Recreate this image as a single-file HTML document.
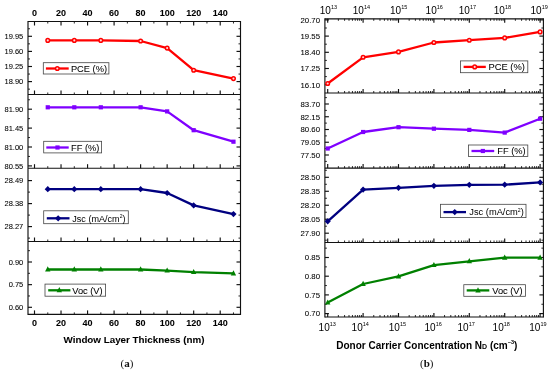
<!DOCTYPE html>
<html lang="en"><head><meta charset="utf-8"><title>Figure</title>
<style>
html,body{margin:0;padding:0;background:#fff;}
svg{display:block;}
</style></head><body>
<svg width="550" height="374" viewBox="0 0 550 374">
<rect x="0" y="0" width="550" height="374" fill="#ffffff"/>
<line x1="28.00" y1="21.00" x2="28.00" y2="314.90" stroke="#111" stroke-width="1.15"/>
<line x1="240.50" y1="21.00" x2="240.50" y2="314.90" stroke="#111" stroke-width="1.15"/>
<line x1="28.00" y1="21.50" x2="240.50" y2="21.50" stroke="#111" stroke-width="1.15"/>
<line x1="28.00" y1="94.50" x2="240.50" y2="94.50" stroke="#111" stroke-width="1.15"/>
<line x1="28.00" y1="168.20" x2="240.50" y2="168.20" stroke="#111" stroke-width="1.15"/>
<line x1="28.00" y1="241.50" x2="240.50" y2="241.50" stroke="#111" stroke-width="1.15"/>
<line x1="28.00" y1="314.40" x2="240.50" y2="314.40" stroke="#111" stroke-width="1.15"/>
<line x1="34.50" y1="94.50" x2="34.50" y2="90.50" stroke="#111" stroke-width="1.15"/>
<line x1="61.03" y1="94.50" x2="61.03" y2="90.50" stroke="#111" stroke-width="1.15"/>
<line x1="87.56" y1="94.50" x2="87.56" y2="90.50" stroke="#111" stroke-width="1.15"/>
<line x1="114.09" y1="94.50" x2="114.09" y2="90.50" stroke="#111" stroke-width="1.15"/>
<line x1="140.62" y1="94.50" x2="140.62" y2="90.50" stroke="#111" stroke-width="1.15"/>
<line x1="167.15" y1="94.50" x2="167.15" y2="90.50" stroke="#111" stroke-width="1.15"/>
<line x1="193.68" y1="94.50" x2="193.68" y2="90.50" stroke="#111" stroke-width="1.15"/>
<line x1="220.21" y1="94.50" x2="220.21" y2="90.50" stroke="#111" stroke-width="1.15"/>
<line x1="47.77" y1="94.50" x2="47.77" y2="92.50" stroke="#111" stroke-width="0.9"/>
<line x1="74.30" y1="94.50" x2="74.30" y2="92.50" stroke="#111" stroke-width="0.9"/>
<line x1="100.83" y1="94.50" x2="100.83" y2="92.50" stroke="#111" stroke-width="0.9"/>
<line x1="127.36" y1="94.50" x2="127.36" y2="92.50" stroke="#111" stroke-width="0.9"/>
<line x1="153.88" y1="94.50" x2="153.88" y2="92.50" stroke="#111" stroke-width="0.9"/>
<line x1="180.41" y1="94.50" x2="180.41" y2="92.50" stroke="#111" stroke-width="0.9"/>
<line x1="206.94" y1="94.50" x2="206.94" y2="92.50" stroke="#111" stroke-width="0.9"/>
<line x1="233.47" y1="94.50" x2="233.47" y2="92.50" stroke="#111" stroke-width="0.9"/>
<line x1="34.50" y1="168.20" x2="34.50" y2="164.20" stroke="#111" stroke-width="1.15"/>
<line x1="61.03" y1="168.20" x2="61.03" y2="164.20" stroke="#111" stroke-width="1.15"/>
<line x1="87.56" y1="168.20" x2="87.56" y2="164.20" stroke="#111" stroke-width="1.15"/>
<line x1="114.09" y1="168.20" x2="114.09" y2="164.20" stroke="#111" stroke-width="1.15"/>
<line x1="140.62" y1="168.20" x2="140.62" y2="164.20" stroke="#111" stroke-width="1.15"/>
<line x1="167.15" y1="168.20" x2="167.15" y2="164.20" stroke="#111" stroke-width="1.15"/>
<line x1="193.68" y1="168.20" x2="193.68" y2="164.20" stroke="#111" stroke-width="1.15"/>
<line x1="220.21" y1="168.20" x2="220.21" y2="164.20" stroke="#111" stroke-width="1.15"/>
<line x1="47.77" y1="168.20" x2="47.77" y2="166.20" stroke="#111" stroke-width="0.9"/>
<line x1="74.30" y1="168.20" x2="74.30" y2="166.20" stroke="#111" stroke-width="0.9"/>
<line x1="100.83" y1="168.20" x2="100.83" y2="166.20" stroke="#111" stroke-width="0.9"/>
<line x1="127.36" y1="168.20" x2="127.36" y2="166.20" stroke="#111" stroke-width="0.9"/>
<line x1="153.88" y1="168.20" x2="153.88" y2="166.20" stroke="#111" stroke-width="0.9"/>
<line x1="180.41" y1="168.20" x2="180.41" y2="166.20" stroke="#111" stroke-width="0.9"/>
<line x1="206.94" y1="168.20" x2="206.94" y2="166.20" stroke="#111" stroke-width="0.9"/>
<line x1="233.47" y1="168.20" x2="233.47" y2="166.20" stroke="#111" stroke-width="0.9"/>
<line x1="34.50" y1="241.50" x2="34.50" y2="237.50" stroke="#111" stroke-width="1.15"/>
<line x1="61.03" y1="241.50" x2="61.03" y2="237.50" stroke="#111" stroke-width="1.15"/>
<line x1="87.56" y1="241.50" x2="87.56" y2="237.50" stroke="#111" stroke-width="1.15"/>
<line x1="114.09" y1="241.50" x2="114.09" y2="237.50" stroke="#111" stroke-width="1.15"/>
<line x1="140.62" y1="241.50" x2="140.62" y2="237.50" stroke="#111" stroke-width="1.15"/>
<line x1="167.15" y1="241.50" x2="167.15" y2="237.50" stroke="#111" stroke-width="1.15"/>
<line x1="193.68" y1="241.50" x2="193.68" y2="237.50" stroke="#111" stroke-width="1.15"/>
<line x1="220.21" y1="241.50" x2="220.21" y2="237.50" stroke="#111" stroke-width="1.15"/>
<line x1="47.77" y1="241.50" x2="47.77" y2="239.50" stroke="#111" stroke-width="0.9"/>
<line x1="74.30" y1="241.50" x2="74.30" y2="239.50" stroke="#111" stroke-width="0.9"/>
<line x1="100.83" y1="241.50" x2="100.83" y2="239.50" stroke="#111" stroke-width="0.9"/>
<line x1="127.36" y1="241.50" x2="127.36" y2="239.50" stroke="#111" stroke-width="0.9"/>
<line x1="153.88" y1="241.50" x2="153.88" y2="239.50" stroke="#111" stroke-width="0.9"/>
<line x1="180.41" y1="241.50" x2="180.41" y2="239.50" stroke="#111" stroke-width="0.9"/>
<line x1="206.94" y1="241.50" x2="206.94" y2="239.50" stroke="#111" stroke-width="0.9"/>
<line x1="233.47" y1="241.50" x2="233.47" y2="239.50" stroke="#111" stroke-width="0.9"/>
<line x1="34.50" y1="314.40" x2="34.50" y2="310.40" stroke="#111" stroke-width="1.15"/>
<line x1="61.03" y1="314.40" x2="61.03" y2="310.40" stroke="#111" stroke-width="1.15"/>
<line x1="87.56" y1="314.40" x2="87.56" y2="310.40" stroke="#111" stroke-width="1.15"/>
<line x1="114.09" y1="314.40" x2="114.09" y2="310.40" stroke="#111" stroke-width="1.15"/>
<line x1="140.62" y1="314.40" x2="140.62" y2="310.40" stroke="#111" stroke-width="1.15"/>
<line x1="167.15" y1="314.40" x2="167.15" y2="310.40" stroke="#111" stroke-width="1.15"/>
<line x1="193.68" y1="314.40" x2="193.68" y2="310.40" stroke="#111" stroke-width="1.15"/>
<line x1="220.21" y1="314.40" x2="220.21" y2="310.40" stroke="#111" stroke-width="1.15"/>
<line x1="47.77" y1="314.40" x2="47.77" y2="312.40" stroke="#111" stroke-width="0.9"/>
<line x1="74.30" y1="314.40" x2="74.30" y2="312.40" stroke="#111" stroke-width="0.9"/>
<line x1="100.83" y1="314.40" x2="100.83" y2="312.40" stroke="#111" stroke-width="0.9"/>
<line x1="127.36" y1="314.40" x2="127.36" y2="312.40" stroke="#111" stroke-width="0.9"/>
<line x1="153.88" y1="314.40" x2="153.88" y2="312.40" stroke="#111" stroke-width="0.9"/>
<line x1="180.41" y1="314.40" x2="180.41" y2="312.40" stroke="#111" stroke-width="0.9"/>
<line x1="206.94" y1="314.40" x2="206.94" y2="312.40" stroke="#111" stroke-width="0.9"/>
<line x1="233.47" y1="314.40" x2="233.47" y2="312.40" stroke="#111" stroke-width="0.9"/>
<line x1="34.50" y1="21.50" x2="34.50" y2="25.50" stroke="#111" stroke-width="1.15"/>
<line x1="61.03" y1="21.50" x2="61.03" y2="25.50" stroke="#111" stroke-width="1.15"/>
<line x1="87.56" y1="21.50" x2="87.56" y2="25.50" stroke="#111" stroke-width="1.15"/>
<line x1="114.09" y1="21.50" x2="114.09" y2="25.50" stroke="#111" stroke-width="1.15"/>
<line x1="140.62" y1="21.50" x2="140.62" y2="25.50" stroke="#111" stroke-width="1.15"/>
<line x1="167.15" y1="21.50" x2="167.15" y2="25.50" stroke="#111" stroke-width="1.15"/>
<line x1="193.68" y1="21.50" x2="193.68" y2="25.50" stroke="#111" stroke-width="1.15"/>
<line x1="220.21" y1="21.50" x2="220.21" y2="25.50" stroke="#111" stroke-width="1.15"/>
<line x1="47.77" y1="21.50" x2="47.77" y2="23.50" stroke="#111" stroke-width="0.9"/>
<line x1="74.30" y1="21.50" x2="74.30" y2="23.50" stroke="#111" stroke-width="0.9"/>
<line x1="100.83" y1="21.50" x2="100.83" y2="23.50" stroke="#111" stroke-width="0.9"/>
<line x1="127.36" y1="21.50" x2="127.36" y2="23.50" stroke="#111" stroke-width="0.9"/>
<line x1="153.88" y1="21.50" x2="153.88" y2="23.50" stroke="#111" stroke-width="0.9"/>
<line x1="180.41" y1="21.50" x2="180.41" y2="23.50" stroke="#111" stroke-width="0.9"/>
<line x1="206.94" y1="21.50" x2="206.94" y2="23.50" stroke="#111" stroke-width="0.9"/>
<line x1="233.47" y1="21.50" x2="233.47" y2="23.50" stroke="#111" stroke-width="0.9"/>
<line x1="28.00" y1="36.30" x2="32.00" y2="36.30" stroke="#111" stroke-width="1.15"/>
<line x1="240.50" y1="36.30" x2="236.50" y2="36.30" stroke="#111" stroke-width="1.15"/>
<line x1="28.00" y1="51.40" x2="32.00" y2="51.40" stroke="#111" stroke-width="1.15"/>
<line x1="240.50" y1="51.40" x2="236.50" y2="51.40" stroke="#111" stroke-width="1.15"/>
<line x1="28.00" y1="66.50" x2="32.00" y2="66.50" stroke="#111" stroke-width="1.15"/>
<line x1="240.50" y1="66.50" x2="236.50" y2="66.50" stroke="#111" stroke-width="1.15"/>
<line x1="28.00" y1="81.60" x2="32.00" y2="81.60" stroke="#111" stroke-width="1.15"/>
<line x1="240.50" y1="81.60" x2="236.50" y2="81.60" stroke="#111" stroke-width="1.15"/>
<line x1="28.00" y1="28.75" x2="30.00" y2="28.75" stroke="#111" stroke-width="0.9"/>
<line x1="240.50" y1="28.75" x2="238.50" y2="28.75" stroke="#111" stroke-width="0.9"/>
<line x1="28.00" y1="43.85" x2="30.00" y2="43.85" stroke="#111" stroke-width="0.9"/>
<line x1="240.50" y1="43.85" x2="238.50" y2="43.85" stroke="#111" stroke-width="0.9"/>
<line x1="28.00" y1="58.95" x2="30.00" y2="58.95" stroke="#111" stroke-width="0.9"/>
<line x1="240.50" y1="58.95" x2="238.50" y2="58.95" stroke="#111" stroke-width="0.9"/>
<line x1="28.00" y1="74.05" x2="30.00" y2="74.05" stroke="#111" stroke-width="0.9"/>
<line x1="240.50" y1="74.05" x2="238.50" y2="74.05" stroke="#111" stroke-width="0.9"/>
<line x1="28.00" y1="89.15" x2="30.00" y2="89.15" stroke="#111" stroke-width="0.9"/>
<line x1="240.50" y1="89.15" x2="238.50" y2="89.15" stroke="#111" stroke-width="0.9"/>
<line x1="28.00" y1="109.20" x2="32.00" y2="109.20" stroke="#111" stroke-width="1.15"/>
<line x1="240.50" y1="109.20" x2="236.50" y2="109.20" stroke="#111" stroke-width="1.15"/>
<line x1="28.00" y1="128.10" x2="32.00" y2="128.10" stroke="#111" stroke-width="1.15"/>
<line x1="240.50" y1="128.10" x2="236.50" y2="128.10" stroke="#111" stroke-width="1.15"/>
<line x1="28.00" y1="147.00" x2="32.00" y2="147.00" stroke="#111" stroke-width="1.15"/>
<line x1="240.50" y1="147.00" x2="236.50" y2="147.00" stroke="#111" stroke-width="1.15"/>
<line x1="28.00" y1="165.90" x2="32.00" y2="165.90" stroke="#111" stroke-width="1.15"/>
<line x1="240.50" y1="165.90" x2="236.50" y2="165.90" stroke="#111" stroke-width="1.15"/>
<line x1="28.00" y1="99.75" x2="30.00" y2="99.75" stroke="#111" stroke-width="0.9"/>
<line x1="240.50" y1="99.75" x2="238.50" y2="99.75" stroke="#111" stroke-width="0.9"/>
<line x1="28.00" y1="118.65" x2="30.00" y2="118.65" stroke="#111" stroke-width="0.9"/>
<line x1="240.50" y1="118.65" x2="238.50" y2="118.65" stroke="#111" stroke-width="0.9"/>
<line x1="28.00" y1="137.55" x2="30.00" y2="137.55" stroke="#111" stroke-width="0.9"/>
<line x1="240.50" y1="137.55" x2="238.50" y2="137.55" stroke="#111" stroke-width="0.9"/>
<line x1="28.00" y1="156.45" x2="30.00" y2="156.45" stroke="#111" stroke-width="0.9"/>
<line x1="240.50" y1="156.45" x2="238.50" y2="156.45" stroke="#111" stroke-width="0.9"/>
<line x1="28.00" y1="180.60" x2="32.00" y2="180.60" stroke="#111" stroke-width="1.15"/>
<line x1="240.50" y1="180.60" x2="236.50" y2="180.60" stroke="#111" stroke-width="1.15"/>
<line x1="28.00" y1="203.60" x2="32.00" y2="203.60" stroke="#111" stroke-width="1.15"/>
<line x1="240.50" y1="203.60" x2="236.50" y2="203.60" stroke="#111" stroke-width="1.15"/>
<line x1="28.00" y1="226.60" x2="32.00" y2="226.60" stroke="#111" stroke-width="1.15"/>
<line x1="240.50" y1="226.60" x2="236.50" y2="226.60" stroke="#111" stroke-width="1.15"/>
<line x1="28.00" y1="192.10" x2="30.00" y2="192.10" stroke="#111" stroke-width="0.9"/>
<line x1="240.50" y1="192.10" x2="238.50" y2="192.10" stroke="#111" stroke-width="0.9"/>
<line x1="28.00" y1="215.10" x2="30.00" y2="215.10" stroke="#111" stroke-width="0.9"/>
<line x1="240.50" y1="215.10" x2="238.50" y2="215.10" stroke="#111" stroke-width="0.9"/>
<line x1="28.00" y1="238.10" x2="30.00" y2="238.10" stroke="#111" stroke-width="0.9"/>
<line x1="240.50" y1="238.10" x2="238.50" y2="238.10" stroke="#111" stroke-width="0.9"/>
<line x1="28.00" y1="262.00" x2="32.00" y2="262.00" stroke="#111" stroke-width="1.15"/>
<line x1="240.50" y1="262.00" x2="236.50" y2="262.00" stroke="#111" stroke-width="1.15"/>
<line x1="28.00" y1="284.65" x2="32.00" y2="284.65" stroke="#111" stroke-width="1.15"/>
<line x1="240.50" y1="284.65" x2="236.50" y2="284.65" stroke="#111" stroke-width="1.15"/>
<line x1="28.00" y1="307.30" x2="32.00" y2="307.30" stroke="#111" stroke-width="1.15"/>
<line x1="240.50" y1="307.30" x2="236.50" y2="307.30" stroke="#111" stroke-width="1.15"/>
<line x1="28.00" y1="250.68" x2="30.00" y2="250.68" stroke="#111" stroke-width="0.9"/>
<line x1="240.50" y1="250.68" x2="238.50" y2="250.68" stroke="#111" stroke-width="0.9"/>
<line x1="28.00" y1="273.32" x2="30.00" y2="273.32" stroke="#111" stroke-width="0.9"/>
<line x1="240.50" y1="273.32" x2="238.50" y2="273.32" stroke="#111" stroke-width="0.9"/>
<line x1="28.00" y1="295.98" x2="30.00" y2="295.98" stroke="#111" stroke-width="0.9"/>
<line x1="240.50" y1="295.98" x2="238.50" y2="295.98" stroke="#111" stroke-width="0.9"/>
<text x="23.30" y="39.00" font-size="7.5" text-anchor="end" font-weight="normal" font-family="'Liberation Sans', Arial, sans-serif" fill="#000" stroke="#000" stroke-width="0.06">19.95</text>
<text x="23.30" y="54.10" font-size="7.5" text-anchor="end" font-weight="normal" font-family="'Liberation Sans', Arial, sans-serif" fill="#000" stroke="#000" stroke-width="0.06">19.60</text>
<text x="23.30" y="69.20" font-size="7.5" text-anchor="end" font-weight="normal" font-family="'Liberation Sans', Arial, sans-serif" fill="#000" stroke="#000" stroke-width="0.06">19.25</text>
<text x="23.30" y="84.30" font-size="7.5" text-anchor="end" font-weight="normal" font-family="'Liberation Sans', Arial, sans-serif" fill="#000" stroke="#000" stroke-width="0.06">18.90</text>
<text x="23.30" y="111.90" font-size="7.5" text-anchor="end" font-weight="normal" font-family="'Liberation Sans', Arial, sans-serif" fill="#000" stroke="#000" stroke-width="0.06">81.90</text>
<text x="23.30" y="130.80" font-size="7.5" text-anchor="end" font-weight="normal" font-family="'Liberation Sans', Arial, sans-serif" fill="#000" stroke="#000" stroke-width="0.06">81.45</text>
<text x="23.30" y="149.70" font-size="7.5" text-anchor="end" font-weight="normal" font-family="'Liberation Sans', Arial, sans-serif" fill="#000" stroke="#000" stroke-width="0.06">81.00</text>
<text x="23.30" y="168.60" font-size="7.5" text-anchor="end" font-weight="normal" font-family="'Liberation Sans', Arial, sans-serif" fill="#000" stroke="#000" stroke-width="0.06">80.55</text>
<text x="23.30" y="183.30" font-size="7.5" text-anchor="end" font-weight="normal" font-family="'Liberation Sans', Arial, sans-serif" fill="#000" stroke="#000" stroke-width="0.06">28.49</text>
<text x="23.30" y="206.30" font-size="7.5" text-anchor="end" font-weight="normal" font-family="'Liberation Sans', Arial, sans-serif" fill="#000" stroke="#000" stroke-width="0.06">28.38</text>
<text x="23.30" y="229.30" font-size="7.5" text-anchor="end" font-weight="normal" font-family="'Liberation Sans', Arial, sans-serif" fill="#000" stroke="#000" stroke-width="0.06">28.27</text>
<text x="23.30" y="264.70" font-size="7.5" text-anchor="end" font-weight="normal" font-family="'Liberation Sans', Arial, sans-serif" fill="#000" stroke="#000" stroke-width="0.06">0.90</text>
<text x="23.30" y="287.35" font-size="7.5" text-anchor="end" font-weight="normal" font-family="'Liberation Sans', Arial, sans-serif" fill="#000" stroke="#000" stroke-width="0.06">0.75</text>
<text x="23.30" y="310.00" font-size="7.5" text-anchor="end" font-weight="normal" font-family="'Liberation Sans', Arial, sans-serif" fill="#000" stroke="#000" stroke-width="0.06">0.60</text>
<text x="34.50" y="15.70" font-size="9" text-anchor="middle" font-weight="bold" font-family="'Liberation Sans', Arial, sans-serif" fill="#000" stroke="#000" stroke-width="0.06">0</text>
<text x="34.50" y="326.20" font-size="9" text-anchor="middle" font-weight="bold" font-family="'Liberation Sans', Arial, sans-serif" fill="#000" stroke="#000" stroke-width="0.06">0</text>
<text x="61.03" y="15.70" font-size="9" text-anchor="middle" font-weight="bold" font-family="'Liberation Sans', Arial, sans-serif" fill="#000" stroke="#000" stroke-width="0.06">20</text>
<text x="61.03" y="326.20" font-size="9" text-anchor="middle" font-weight="bold" font-family="'Liberation Sans', Arial, sans-serif" fill="#000" stroke="#000" stroke-width="0.06">20</text>
<text x="87.56" y="15.70" font-size="9" text-anchor="middle" font-weight="bold" font-family="'Liberation Sans', Arial, sans-serif" fill="#000" stroke="#000" stroke-width="0.06">40</text>
<text x="87.56" y="326.20" font-size="9" text-anchor="middle" font-weight="bold" font-family="'Liberation Sans', Arial, sans-serif" fill="#000" stroke="#000" stroke-width="0.06">40</text>
<text x="114.09" y="15.70" font-size="9" text-anchor="middle" font-weight="bold" font-family="'Liberation Sans', Arial, sans-serif" fill="#000" stroke="#000" stroke-width="0.06">60</text>
<text x="114.09" y="326.20" font-size="9" text-anchor="middle" font-weight="bold" font-family="'Liberation Sans', Arial, sans-serif" fill="#000" stroke="#000" stroke-width="0.06">60</text>
<text x="140.62" y="15.70" font-size="9" text-anchor="middle" font-weight="bold" font-family="'Liberation Sans', Arial, sans-serif" fill="#000" stroke="#000" stroke-width="0.06">80</text>
<text x="140.62" y="326.20" font-size="9" text-anchor="middle" font-weight="bold" font-family="'Liberation Sans', Arial, sans-serif" fill="#000" stroke="#000" stroke-width="0.06">80</text>
<text x="167.15" y="15.70" font-size="9" text-anchor="middle" font-weight="bold" font-family="'Liberation Sans', Arial, sans-serif" fill="#000" stroke="#000" stroke-width="0.06">100</text>
<text x="167.15" y="326.20" font-size="9" text-anchor="middle" font-weight="bold" font-family="'Liberation Sans', Arial, sans-serif" fill="#000" stroke="#000" stroke-width="0.06">100</text>
<text x="193.68" y="15.70" font-size="9" text-anchor="middle" font-weight="bold" font-family="'Liberation Sans', Arial, sans-serif" fill="#000" stroke="#000" stroke-width="0.06">120</text>
<text x="193.68" y="326.20" font-size="9" text-anchor="middle" font-weight="bold" font-family="'Liberation Sans', Arial, sans-serif" fill="#000" stroke="#000" stroke-width="0.06">120</text>
<text x="220.21" y="15.70" font-size="9" text-anchor="middle" font-weight="bold" font-family="'Liberation Sans', Arial, sans-serif" fill="#000" stroke="#000" stroke-width="0.06">140</text>
<text x="220.21" y="326.20" font-size="9" text-anchor="middle" font-weight="bold" font-family="'Liberation Sans', Arial, sans-serif" fill="#000" stroke="#000" stroke-width="0.06">140</text>
<text x="134.00" y="342.90" font-size="9.8" text-anchor="middle" font-weight="bold" font-family="'Liberation Sans', Arial, sans-serif" fill="#000" stroke="#000" stroke-width="0.06" textLength="141" lengthAdjust="spacingAndGlyphs">Window Layer Thickness (nm)</text>
<polyline points="47.77,40.40 74.30,40.40 100.83,40.40 140.62,41.00 167.15,48.10 193.68,70.20 233.47,78.60" fill="none" stroke="#ff0000" stroke-width="2.3" stroke-linejoin="round"/>
<circle cx="47.77" cy="40.40" r="1.8" fill="#ffd8d8" stroke="#ff0000" stroke-width="1.5"/>
<circle cx="74.30" cy="40.40" r="1.8" fill="#ffd8d8" stroke="#ff0000" stroke-width="1.5"/>
<circle cx="100.83" cy="40.40" r="1.8" fill="#ffd8d8" stroke="#ff0000" stroke-width="1.5"/>
<circle cx="140.62" cy="41.00" r="1.8" fill="#ffd8d8" stroke="#ff0000" stroke-width="1.5"/>
<circle cx="167.15" cy="48.10" r="1.8" fill="#ffd8d8" stroke="#ff0000" stroke-width="1.5"/>
<circle cx="193.68" cy="70.20" r="1.8" fill="#ffd8d8" stroke="#ff0000" stroke-width="1.5"/>
<circle cx="233.47" cy="78.60" r="1.8" fill="#ffd8d8" stroke="#ff0000" stroke-width="1.5"/>
<polyline points="47.77,107.30 74.30,107.30 100.83,107.30 140.62,107.30 167.15,111.40 193.68,130.20 233.47,141.70" fill="none" stroke="#7f00ff" stroke-width="2.3" stroke-linejoin="round"/>
<rect x="45.66" y="105.20" width="4.20" height="4.20" fill="#7f00ff"/>
<rect x="72.20" y="105.20" width="4.20" height="4.20" fill="#7f00ff"/>
<rect x="98.73" y="105.20" width="4.20" height="4.20" fill="#7f00ff"/>
<rect x="138.52" y="105.20" width="4.20" height="4.20" fill="#7f00ff"/>
<rect x="165.05" y="109.30" width="4.20" height="4.20" fill="#7f00ff"/>
<rect x="191.58" y="128.10" width="4.20" height="4.20" fill="#7f00ff"/>
<rect x="231.38" y="139.60" width="4.20" height="4.20" fill="#7f00ff"/>
<polyline points="47.77,189.20 74.30,189.20 100.83,189.20 140.62,189.20 167.15,193.00 193.68,205.40 233.47,214.10" fill="none" stroke="#000080" stroke-width="2.3" stroke-linejoin="round"/>
<polygon points="44.66,189.20 47.77,186.10 50.87,189.20 47.77,192.30" fill="#000080"/>
<polygon points="71.20,189.20 74.30,186.10 77.39,189.20 74.30,192.30" fill="#000080"/>
<polygon points="97.73,189.20 100.83,186.10 103.92,189.20 100.83,192.30" fill="#000080"/>
<polygon points="137.52,189.20 140.62,186.10 143.72,189.20 140.62,192.30" fill="#000080"/>
<polygon points="164.05,193.00 167.15,189.90 170.25,193.00 167.15,196.10" fill="#000080"/>
<polygon points="190.58,205.40 193.68,202.30 196.78,205.40 193.68,208.50" fill="#000080"/>
<polygon points="230.38,214.10 233.47,211.00 236.57,214.10 233.47,217.20" fill="#000080"/>
<polyline points="47.77,269.50 74.30,269.50 100.83,269.50 140.62,269.50 167.15,270.60 193.68,272.10 233.47,273.40" fill="none" stroke="#008000" stroke-width="2.3" stroke-linejoin="round"/>
<polygon points="45.06,271.50 47.77,266.30 50.47,271.50" fill="#008000"/>
<polygon points="71.59,271.50 74.30,266.30 77.00,271.50" fill="#008000"/>
<polygon points="98.12,271.50 100.83,266.30 103.53,271.50" fill="#008000"/>
<polygon points="137.92,271.50 140.62,266.30 143.32,271.50" fill="#008000"/>
<polygon points="164.45,272.60 167.15,267.40 169.85,272.60" fill="#008000"/>
<polygon points="190.98,274.10 193.68,268.90 196.38,274.10" fill="#008000"/>
<polygon points="230.78,275.40 233.47,270.20 236.17,275.40" fill="#008000"/>
<rect x="43.30" y="62.70" width="65.60" height="11.30" fill="#fff" stroke="#444" stroke-width="0.8"/>
<line x1="45.90" y1="68.50" x2="68.70" y2="68.50" stroke="#ff0000" stroke-width="2.3"/>
<circle cx="57.30" cy="68.50" r="1.8" fill="#ffd8d8" stroke="#ff0000" stroke-width="1.5"/>
<text x="70.90" y="71.70" font-size="9.25" text-anchor="start" font-weight="normal" font-family="'Liberation Sans', Arial, sans-serif" fill="#000" stroke="#000" stroke-width="0.06" textLength="36.10" lengthAdjust="spacingAndGlyphs">PCE (%)</text>
<rect x="43.70" y="141.30" width="57.90" height="11.60" fill="#fff" stroke="#444" stroke-width="0.8"/>
<line x1="46.30" y1="147.50" x2="68.70" y2="147.50" stroke="#7f00ff" stroke-width="2.3"/>
<rect x="55.40" y="145.40" width="4.20" height="4.20" fill="#7f00ff"/>
<text x="71.00" y="150.70" font-size="9.25" text-anchor="start" font-weight="normal" font-family="'Liberation Sans', Arial, sans-serif" fill="#000" stroke="#000" stroke-width="0.06" textLength="28.30" lengthAdjust="spacingAndGlyphs">FF (%)</text>
<rect x="43.70" y="210.80" width="84.60" height="12.90" fill="#fff" stroke="#444" stroke-width="0.8"/>
<line x1="46.80" y1="218.30" x2="69.50" y2="218.30" stroke="#000080" stroke-width="2.3"/>
<polygon points="55.05,218.30 58.15,215.20 61.25,218.30 58.15,221.40" fill="#000080"/>
<text x="72.30" y="221.50" font-size="9.25" font-family="'Liberation Sans', Arial, sans-serif" fill="#000" textLength="53.20" lengthAdjust="spacingAndGlyphs">Jsc (mA/cm<tspan font-size="5.2" dy="-3.6">2</tspan><tspan dy="3.6">)</tspan></text>
<rect x="45.00" y="284.10" width="60.60" height="12.10" fill="#fff" stroke="#444" stroke-width="0.8"/>
<line x1="48.20" y1="290.30" x2="70.40" y2="290.30" stroke="#008000" stroke-width="2.3"/>
<polygon points="56.60,292.30 59.30,287.10 62.00,292.30" fill="#008000"/>
<text x="72.20" y="293.50" font-size="9.25" text-anchor="start" font-weight="normal" font-family="'Liberation Sans', Arial, sans-serif" fill="#000" stroke="#000" stroke-width="0.06" textLength="30.50" lengthAdjust="spacingAndGlyphs">Voc (V)</text>
<text x="126.9" y="367.2" font-size="11" text-anchor="middle" font-family="'Liberation Serif', 'Times New Roman', serif" fill="#111">(<tspan font-weight="bold">a</tspan>)</text>
<line x1="324.90" y1="18.30" x2="324.90" y2="317.50" stroke="#111" stroke-width="1.15"/>
<line x1="543.40" y1="18.30" x2="543.40" y2="317.50" stroke="#111" stroke-width="1.15"/>
<line x1="324.90" y1="18.80" x2="543.40" y2="18.80" stroke="#111" stroke-width="1.15"/>
<line x1="324.90" y1="93.00" x2="543.40" y2="93.00" stroke="#111" stroke-width="1.15"/>
<line x1="324.90" y1="168.10" x2="543.40" y2="168.10" stroke="#111" stroke-width="1.15"/>
<line x1="324.90" y1="242.50" x2="543.40" y2="242.50" stroke="#111" stroke-width="1.15"/>
<line x1="324.90" y1="317.00" x2="543.40" y2="317.00" stroke="#111" stroke-width="1.15"/>
<line x1="327.70" y1="93.00" x2="327.70" y2="89.00" stroke="#111" stroke-width="1.15"/>
<line x1="363.10" y1="93.00" x2="363.10" y2="89.00" stroke="#111" stroke-width="1.15"/>
<line x1="398.50" y1="93.00" x2="398.50" y2="89.00" stroke="#111" stroke-width="1.15"/>
<line x1="433.90" y1="93.00" x2="433.90" y2="89.00" stroke="#111" stroke-width="1.15"/>
<line x1="469.30" y1="93.00" x2="469.30" y2="89.00" stroke="#111" stroke-width="1.15"/>
<line x1="504.70" y1="93.00" x2="504.70" y2="89.00" stroke="#111" stroke-width="1.15"/>
<line x1="540.10" y1="93.00" x2="540.10" y2="89.00" stroke="#111" stroke-width="1.15"/>
<line x1="338.36" y1="93.00" x2="338.36" y2="91.00" stroke="#111" stroke-width="0.9"/>
<line x1="344.59" y1="93.00" x2="344.59" y2="91.00" stroke="#111" stroke-width="0.9"/>
<line x1="349.01" y1="93.00" x2="349.01" y2="91.00" stroke="#111" stroke-width="0.9"/>
<line x1="352.44" y1="93.00" x2="352.44" y2="91.00" stroke="#111" stroke-width="0.9"/>
<line x1="355.25" y1="93.00" x2="355.25" y2="91.00" stroke="#111" stroke-width="0.9"/>
<line x1="357.62" y1="93.00" x2="357.62" y2="91.00" stroke="#111" stroke-width="0.9"/>
<line x1="359.67" y1="93.00" x2="359.67" y2="91.00" stroke="#111" stroke-width="0.9"/>
<line x1="361.48" y1="93.00" x2="361.48" y2="91.00" stroke="#111" stroke-width="0.9"/>
<line x1="373.76" y1="93.00" x2="373.76" y2="91.00" stroke="#111" stroke-width="0.9"/>
<line x1="379.99" y1="93.00" x2="379.99" y2="91.00" stroke="#111" stroke-width="0.9"/>
<line x1="384.41" y1="93.00" x2="384.41" y2="91.00" stroke="#111" stroke-width="0.9"/>
<line x1="387.84" y1="93.00" x2="387.84" y2="91.00" stroke="#111" stroke-width="0.9"/>
<line x1="390.65" y1="93.00" x2="390.65" y2="91.00" stroke="#111" stroke-width="0.9"/>
<line x1="393.02" y1="93.00" x2="393.02" y2="91.00" stroke="#111" stroke-width="0.9"/>
<line x1="395.07" y1="93.00" x2="395.07" y2="91.00" stroke="#111" stroke-width="0.9"/>
<line x1="396.88" y1="93.00" x2="396.88" y2="91.00" stroke="#111" stroke-width="0.9"/>
<line x1="409.16" y1="93.00" x2="409.16" y2="91.00" stroke="#111" stroke-width="0.9"/>
<line x1="415.39" y1="93.00" x2="415.39" y2="91.00" stroke="#111" stroke-width="0.9"/>
<line x1="419.81" y1="93.00" x2="419.81" y2="91.00" stroke="#111" stroke-width="0.9"/>
<line x1="423.24" y1="93.00" x2="423.24" y2="91.00" stroke="#111" stroke-width="0.9"/>
<line x1="426.05" y1="93.00" x2="426.05" y2="91.00" stroke="#111" stroke-width="0.9"/>
<line x1="428.42" y1="93.00" x2="428.42" y2="91.00" stroke="#111" stroke-width="0.9"/>
<line x1="430.47" y1="93.00" x2="430.47" y2="91.00" stroke="#111" stroke-width="0.9"/>
<line x1="432.28" y1="93.00" x2="432.28" y2="91.00" stroke="#111" stroke-width="0.9"/>
<line x1="444.56" y1="93.00" x2="444.56" y2="91.00" stroke="#111" stroke-width="0.9"/>
<line x1="450.79" y1="93.00" x2="450.79" y2="91.00" stroke="#111" stroke-width="0.9"/>
<line x1="455.21" y1="93.00" x2="455.21" y2="91.00" stroke="#111" stroke-width="0.9"/>
<line x1="458.64" y1="93.00" x2="458.64" y2="91.00" stroke="#111" stroke-width="0.9"/>
<line x1="461.45" y1="93.00" x2="461.45" y2="91.00" stroke="#111" stroke-width="0.9"/>
<line x1="463.82" y1="93.00" x2="463.82" y2="91.00" stroke="#111" stroke-width="0.9"/>
<line x1="465.87" y1="93.00" x2="465.87" y2="91.00" stroke="#111" stroke-width="0.9"/>
<line x1="467.68" y1="93.00" x2="467.68" y2="91.00" stroke="#111" stroke-width="0.9"/>
<line x1="479.96" y1="93.00" x2="479.96" y2="91.00" stroke="#111" stroke-width="0.9"/>
<line x1="486.19" y1="93.00" x2="486.19" y2="91.00" stroke="#111" stroke-width="0.9"/>
<line x1="490.61" y1="93.00" x2="490.61" y2="91.00" stroke="#111" stroke-width="0.9"/>
<line x1="494.04" y1="93.00" x2="494.04" y2="91.00" stroke="#111" stroke-width="0.9"/>
<line x1="496.85" y1="93.00" x2="496.85" y2="91.00" stroke="#111" stroke-width="0.9"/>
<line x1="499.22" y1="93.00" x2="499.22" y2="91.00" stroke="#111" stroke-width="0.9"/>
<line x1="501.27" y1="93.00" x2="501.27" y2="91.00" stroke="#111" stroke-width="0.9"/>
<line x1="503.08" y1="93.00" x2="503.08" y2="91.00" stroke="#111" stroke-width="0.9"/>
<line x1="515.36" y1="93.00" x2="515.36" y2="91.00" stroke="#111" stroke-width="0.9"/>
<line x1="521.59" y1="93.00" x2="521.59" y2="91.00" stroke="#111" stroke-width="0.9"/>
<line x1="526.01" y1="93.00" x2="526.01" y2="91.00" stroke="#111" stroke-width="0.9"/>
<line x1="529.44" y1="93.00" x2="529.44" y2="91.00" stroke="#111" stroke-width="0.9"/>
<line x1="532.25" y1="93.00" x2="532.25" y2="91.00" stroke="#111" stroke-width="0.9"/>
<line x1="534.62" y1="93.00" x2="534.62" y2="91.00" stroke="#111" stroke-width="0.9"/>
<line x1="536.67" y1="93.00" x2="536.67" y2="91.00" stroke="#111" stroke-width="0.9"/>
<line x1="538.48" y1="93.00" x2="538.48" y2="91.00" stroke="#111" stroke-width="0.9"/>
<line x1="327.70" y1="168.10" x2="327.70" y2="164.10" stroke="#111" stroke-width="1.15"/>
<line x1="363.10" y1="168.10" x2="363.10" y2="164.10" stroke="#111" stroke-width="1.15"/>
<line x1="398.50" y1="168.10" x2="398.50" y2="164.10" stroke="#111" stroke-width="1.15"/>
<line x1="433.90" y1="168.10" x2="433.90" y2="164.10" stroke="#111" stroke-width="1.15"/>
<line x1="469.30" y1="168.10" x2="469.30" y2="164.10" stroke="#111" stroke-width="1.15"/>
<line x1="504.70" y1="168.10" x2="504.70" y2="164.10" stroke="#111" stroke-width="1.15"/>
<line x1="540.10" y1="168.10" x2="540.10" y2="164.10" stroke="#111" stroke-width="1.15"/>
<line x1="338.36" y1="168.10" x2="338.36" y2="166.10" stroke="#111" stroke-width="0.9"/>
<line x1="344.59" y1="168.10" x2="344.59" y2="166.10" stroke="#111" stroke-width="0.9"/>
<line x1="349.01" y1="168.10" x2="349.01" y2="166.10" stroke="#111" stroke-width="0.9"/>
<line x1="352.44" y1="168.10" x2="352.44" y2="166.10" stroke="#111" stroke-width="0.9"/>
<line x1="355.25" y1="168.10" x2="355.25" y2="166.10" stroke="#111" stroke-width="0.9"/>
<line x1="357.62" y1="168.10" x2="357.62" y2="166.10" stroke="#111" stroke-width="0.9"/>
<line x1="359.67" y1="168.10" x2="359.67" y2="166.10" stroke="#111" stroke-width="0.9"/>
<line x1="361.48" y1="168.10" x2="361.48" y2="166.10" stroke="#111" stroke-width="0.9"/>
<line x1="373.76" y1="168.10" x2="373.76" y2="166.10" stroke="#111" stroke-width="0.9"/>
<line x1="379.99" y1="168.10" x2="379.99" y2="166.10" stroke="#111" stroke-width="0.9"/>
<line x1="384.41" y1="168.10" x2="384.41" y2="166.10" stroke="#111" stroke-width="0.9"/>
<line x1="387.84" y1="168.10" x2="387.84" y2="166.10" stroke="#111" stroke-width="0.9"/>
<line x1="390.65" y1="168.10" x2="390.65" y2="166.10" stroke="#111" stroke-width="0.9"/>
<line x1="393.02" y1="168.10" x2="393.02" y2="166.10" stroke="#111" stroke-width="0.9"/>
<line x1="395.07" y1="168.10" x2="395.07" y2="166.10" stroke="#111" stroke-width="0.9"/>
<line x1="396.88" y1="168.10" x2="396.88" y2="166.10" stroke="#111" stroke-width="0.9"/>
<line x1="409.16" y1="168.10" x2="409.16" y2="166.10" stroke="#111" stroke-width="0.9"/>
<line x1="415.39" y1="168.10" x2="415.39" y2="166.10" stroke="#111" stroke-width="0.9"/>
<line x1="419.81" y1="168.10" x2="419.81" y2="166.10" stroke="#111" stroke-width="0.9"/>
<line x1="423.24" y1="168.10" x2="423.24" y2="166.10" stroke="#111" stroke-width="0.9"/>
<line x1="426.05" y1="168.10" x2="426.05" y2="166.10" stroke="#111" stroke-width="0.9"/>
<line x1="428.42" y1="168.10" x2="428.42" y2="166.10" stroke="#111" stroke-width="0.9"/>
<line x1="430.47" y1="168.10" x2="430.47" y2="166.10" stroke="#111" stroke-width="0.9"/>
<line x1="432.28" y1="168.10" x2="432.28" y2="166.10" stroke="#111" stroke-width="0.9"/>
<line x1="444.56" y1="168.10" x2="444.56" y2="166.10" stroke="#111" stroke-width="0.9"/>
<line x1="450.79" y1="168.10" x2="450.79" y2="166.10" stroke="#111" stroke-width="0.9"/>
<line x1="455.21" y1="168.10" x2="455.21" y2="166.10" stroke="#111" stroke-width="0.9"/>
<line x1="458.64" y1="168.10" x2="458.64" y2="166.10" stroke="#111" stroke-width="0.9"/>
<line x1="461.45" y1="168.10" x2="461.45" y2="166.10" stroke="#111" stroke-width="0.9"/>
<line x1="463.82" y1="168.10" x2="463.82" y2="166.10" stroke="#111" stroke-width="0.9"/>
<line x1="465.87" y1="168.10" x2="465.87" y2="166.10" stroke="#111" stroke-width="0.9"/>
<line x1="467.68" y1="168.10" x2="467.68" y2="166.10" stroke="#111" stroke-width="0.9"/>
<line x1="479.96" y1="168.10" x2="479.96" y2="166.10" stroke="#111" stroke-width="0.9"/>
<line x1="486.19" y1="168.10" x2="486.19" y2="166.10" stroke="#111" stroke-width="0.9"/>
<line x1="490.61" y1="168.10" x2="490.61" y2="166.10" stroke="#111" stroke-width="0.9"/>
<line x1="494.04" y1="168.10" x2="494.04" y2="166.10" stroke="#111" stroke-width="0.9"/>
<line x1="496.85" y1="168.10" x2="496.85" y2="166.10" stroke="#111" stroke-width="0.9"/>
<line x1="499.22" y1="168.10" x2="499.22" y2="166.10" stroke="#111" stroke-width="0.9"/>
<line x1="501.27" y1="168.10" x2="501.27" y2="166.10" stroke="#111" stroke-width="0.9"/>
<line x1="503.08" y1="168.10" x2="503.08" y2="166.10" stroke="#111" stroke-width="0.9"/>
<line x1="515.36" y1="168.10" x2="515.36" y2="166.10" stroke="#111" stroke-width="0.9"/>
<line x1="521.59" y1="168.10" x2="521.59" y2="166.10" stroke="#111" stroke-width="0.9"/>
<line x1="526.01" y1="168.10" x2="526.01" y2="166.10" stroke="#111" stroke-width="0.9"/>
<line x1="529.44" y1="168.10" x2="529.44" y2="166.10" stroke="#111" stroke-width="0.9"/>
<line x1="532.25" y1="168.10" x2="532.25" y2="166.10" stroke="#111" stroke-width="0.9"/>
<line x1="534.62" y1="168.10" x2="534.62" y2="166.10" stroke="#111" stroke-width="0.9"/>
<line x1="536.67" y1="168.10" x2="536.67" y2="166.10" stroke="#111" stroke-width="0.9"/>
<line x1="538.48" y1="168.10" x2="538.48" y2="166.10" stroke="#111" stroke-width="0.9"/>
<line x1="327.70" y1="242.50" x2="327.70" y2="238.50" stroke="#111" stroke-width="1.15"/>
<line x1="363.10" y1="242.50" x2="363.10" y2="238.50" stroke="#111" stroke-width="1.15"/>
<line x1="398.50" y1="242.50" x2="398.50" y2="238.50" stroke="#111" stroke-width="1.15"/>
<line x1="433.90" y1="242.50" x2="433.90" y2="238.50" stroke="#111" stroke-width="1.15"/>
<line x1="469.30" y1="242.50" x2="469.30" y2="238.50" stroke="#111" stroke-width="1.15"/>
<line x1="504.70" y1="242.50" x2="504.70" y2="238.50" stroke="#111" stroke-width="1.15"/>
<line x1="540.10" y1="242.50" x2="540.10" y2="238.50" stroke="#111" stroke-width="1.15"/>
<line x1="338.36" y1="242.50" x2="338.36" y2="240.50" stroke="#111" stroke-width="0.9"/>
<line x1="344.59" y1="242.50" x2="344.59" y2="240.50" stroke="#111" stroke-width="0.9"/>
<line x1="349.01" y1="242.50" x2="349.01" y2="240.50" stroke="#111" stroke-width="0.9"/>
<line x1="352.44" y1="242.50" x2="352.44" y2="240.50" stroke="#111" stroke-width="0.9"/>
<line x1="355.25" y1="242.50" x2="355.25" y2="240.50" stroke="#111" stroke-width="0.9"/>
<line x1="357.62" y1="242.50" x2="357.62" y2="240.50" stroke="#111" stroke-width="0.9"/>
<line x1="359.67" y1="242.50" x2="359.67" y2="240.50" stroke="#111" stroke-width="0.9"/>
<line x1="361.48" y1="242.50" x2="361.48" y2="240.50" stroke="#111" stroke-width="0.9"/>
<line x1="373.76" y1="242.50" x2="373.76" y2="240.50" stroke="#111" stroke-width="0.9"/>
<line x1="379.99" y1="242.50" x2="379.99" y2="240.50" stroke="#111" stroke-width="0.9"/>
<line x1="384.41" y1="242.50" x2="384.41" y2="240.50" stroke="#111" stroke-width="0.9"/>
<line x1="387.84" y1="242.50" x2="387.84" y2="240.50" stroke="#111" stroke-width="0.9"/>
<line x1="390.65" y1="242.50" x2="390.65" y2="240.50" stroke="#111" stroke-width="0.9"/>
<line x1="393.02" y1="242.50" x2="393.02" y2="240.50" stroke="#111" stroke-width="0.9"/>
<line x1="395.07" y1="242.50" x2="395.07" y2="240.50" stroke="#111" stroke-width="0.9"/>
<line x1="396.88" y1="242.50" x2="396.88" y2="240.50" stroke="#111" stroke-width="0.9"/>
<line x1="409.16" y1="242.50" x2="409.16" y2="240.50" stroke="#111" stroke-width="0.9"/>
<line x1="415.39" y1="242.50" x2="415.39" y2="240.50" stroke="#111" stroke-width="0.9"/>
<line x1="419.81" y1="242.50" x2="419.81" y2="240.50" stroke="#111" stroke-width="0.9"/>
<line x1="423.24" y1="242.50" x2="423.24" y2="240.50" stroke="#111" stroke-width="0.9"/>
<line x1="426.05" y1="242.50" x2="426.05" y2="240.50" stroke="#111" stroke-width="0.9"/>
<line x1="428.42" y1="242.50" x2="428.42" y2="240.50" stroke="#111" stroke-width="0.9"/>
<line x1="430.47" y1="242.50" x2="430.47" y2="240.50" stroke="#111" stroke-width="0.9"/>
<line x1="432.28" y1="242.50" x2="432.28" y2="240.50" stroke="#111" stroke-width="0.9"/>
<line x1="444.56" y1="242.50" x2="444.56" y2="240.50" stroke="#111" stroke-width="0.9"/>
<line x1="450.79" y1="242.50" x2="450.79" y2="240.50" stroke="#111" stroke-width="0.9"/>
<line x1="455.21" y1="242.50" x2="455.21" y2="240.50" stroke="#111" stroke-width="0.9"/>
<line x1="458.64" y1="242.50" x2="458.64" y2="240.50" stroke="#111" stroke-width="0.9"/>
<line x1="461.45" y1="242.50" x2="461.45" y2="240.50" stroke="#111" stroke-width="0.9"/>
<line x1="463.82" y1="242.50" x2="463.82" y2="240.50" stroke="#111" stroke-width="0.9"/>
<line x1="465.87" y1="242.50" x2="465.87" y2="240.50" stroke="#111" stroke-width="0.9"/>
<line x1="467.68" y1="242.50" x2="467.68" y2="240.50" stroke="#111" stroke-width="0.9"/>
<line x1="479.96" y1="242.50" x2="479.96" y2="240.50" stroke="#111" stroke-width="0.9"/>
<line x1="486.19" y1="242.50" x2="486.19" y2="240.50" stroke="#111" stroke-width="0.9"/>
<line x1="490.61" y1="242.50" x2="490.61" y2="240.50" stroke="#111" stroke-width="0.9"/>
<line x1="494.04" y1="242.50" x2="494.04" y2="240.50" stroke="#111" stroke-width="0.9"/>
<line x1="496.85" y1="242.50" x2="496.85" y2="240.50" stroke="#111" stroke-width="0.9"/>
<line x1="499.22" y1="242.50" x2="499.22" y2="240.50" stroke="#111" stroke-width="0.9"/>
<line x1="501.27" y1="242.50" x2="501.27" y2="240.50" stroke="#111" stroke-width="0.9"/>
<line x1="503.08" y1="242.50" x2="503.08" y2="240.50" stroke="#111" stroke-width="0.9"/>
<line x1="515.36" y1="242.50" x2="515.36" y2="240.50" stroke="#111" stroke-width="0.9"/>
<line x1="521.59" y1="242.50" x2="521.59" y2="240.50" stroke="#111" stroke-width="0.9"/>
<line x1="526.01" y1="242.50" x2="526.01" y2="240.50" stroke="#111" stroke-width="0.9"/>
<line x1="529.44" y1="242.50" x2="529.44" y2="240.50" stroke="#111" stroke-width="0.9"/>
<line x1="532.25" y1="242.50" x2="532.25" y2="240.50" stroke="#111" stroke-width="0.9"/>
<line x1="534.62" y1="242.50" x2="534.62" y2="240.50" stroke="#111" stroke-width="0.9"/>
<line x1="536.67" y1="242.50" x2="536.67" y2="240.50" stroke="#111" stroke-width="0.9"/>
<line x1="538.48" y1="242.50" x2="538.48" y2="240.50" stroke="#111" stroke-width="0.9"/>
<line x1="327.70" y1="317.00" x2="327.70" y2="313.00" stroke="#111" stroke-width="1.15"/>
<line x1="363.10" y1="317.00" x2="363.10" y2="313.00" stroke="#111" stroke-width="1.15"/>
<line x1="398.50" y1="317.00" x2="398.50" y2="313.00" stroke="#111" stroke-width="1.15"/>
<line x1="433.90" y1="317.00" x2="433.90" y2="313.00" stroke="#111" stroke-width="1.15"/>
<line x1="469.30" y1="317.00" x2="469.30" y2="313.00" stroke="#111" stroke-width="1.15"/>
<line x1="504.70" y1="317.00" x2="504.70" y2="313.00" stroke="#111" stroke-width="1.15"/>
<line x1="540.10" y1="317.00" x2="540.10" y2="313.00" stroke="#111" stroke-width="1.15"/>
<line x1="338.36" y1="317.00" x2="338.36" y2="315.00" stroke="#111" stroke-width="0.9"/>
<line x1="344.59" y1="317.00" x2="344.59" y2="315.00" stroke="#111" stroke-width="0.9"/>
<line x1="349.01" y1="317.00" x2="349.01" y2="315.00" stroke="#111" stroke-width="0.9"/>
<line x1="352.44" y1="317.00" x2="352.44" y2="315.00" stroke="#111" stroke-width="0.9"/>
<line x1="355.25" y1="317.00" x2="355.25" y2="315.00" stroke="#111" stroke-width="0.9"/>
<line x1="357.62" y1="317.00" x2="357.62" y2="315.00" stroke="#111" stroke-width="0.9"/>
<line x1="359.67" y1="317.00" x2="359.67" y2="315.00" stroke="#111" stroke-width="0.9"/>
<line x1="361.48" y1="317.00" x2="361.48" y2="315.00" stroke="#111" stroke-width="0.9"/>
<line x1="373.76" y1="317.00" x2="373.76" y2="315.00" stroke="#111" stroke-width="0.9"/>
<line x1="379.99" y1="317.00" x2="379.99" y2="315.00" stroke="#111" stroke-width="0.9"/>
<line x1="384.41" y1="317.00" x2="384.41" y2="315.00" stroke="#111" stroke-width="0.9"/>
<line x1="387.84" y1="317.00" x2="387.84" y2="315.00" stroke="#111" stroke-width="0.9"/>
<line x1="390.65" y1="317.00" x2="390.65" y2="315.00" stroke="#111" stroke-width="0.9"/>
<line x1="393.02" y1="317.00" x2="393.02" y2="315.00" stroke="#111" stroke-width="0.9"/>
<line x1="395.07" y1="317.00" x2="395.07" y2="315.00" stroke="#111" stroke-width="0.9"/>
<line x1="396.88" y1="317.00" x2="396.88" y2="315.00" stroke="#111" stroke-width="0.9"/>
<line x1="409.16" y1="317.00" x2="409.16" y2="315.00" stroke="#111" stroke-width="0.9"/>
<line x1="415.39" y1="317.00" x2="415.39" y2="315.00" stroke="#111" stroke-width="0.9"/>
<line x1="419.81" y1="317.00" x2="419.81" y2="315.00" stroke="#111" stroke-width="0.9"/>
<line x1="423.24" y1="317.00" x2="423.24" y2="315.00" stroke="#111" stroke-width="0.9"/>
<line x1="426.05" y1="317.00" x2="426.05" y2="315.00" stroke="#111" stroke-width="0.9"/>
<line x1="428.42" y1="317.00" x2="428.42" y2="315.00" stroke="#111" stroke-width="0.9"/>
<line x1="430.47" y1="317.00" x2="430.47" y2="315.00" stroke="#111" stroke-width="0.9"/>
<line x1="432.28" y1="317.00" x2="432.28" y2="315.00" stroke="#111" stroke-width="0.9"/>
<line x1="444.56" y1="317.00" x2="444.56" y2="315.00" stroke="#111" stroke-width="0.9"/>
<line x1="450.79" y1="317.00" x2="450.79" y2="315.00" stroke="#111" stroke-width="0.9"/>
<line x1="455.21" y1="317.00" x2="455.21" y2="315.00" stroke="#111" stroke-width="0.9"/>
<line x1="458.64" y1="317.00" x2="458.64" y2="315.00" stroke="#111" stroke-width="0.9"/>
<line x1="461.45" y1="317.00" x2="461.45" y2="315.00" stroke="#111" stroke-width="0.9"/>
<line x1="463.82" y1="317.00" x2="463.82" y2="315.00" stroke="#111" stroke-width="0.9"/>
<line x1="465.87" y1="317.00" x2="465.87" y2="315.00" stroke="#111" stroke-width="0.9"/>
<line x1="467.68" y1="317.00" x2="467.68" y2="315.00" stroke="#111" stroke-width="0.9"/>
<line x1="479.96" y1="317.00" x2="479.96" y2="315.00" stroke="#111" stroke-width="0.9"/>
<line x1="486.19" y1="317.00" x2="486.19" y2="315.00" stroke="#111" stroke-width="0.9"/>
<line x1="490.61" y1="317.00" x2="490.61" y2="315.00" stroke="#111" stroke-width="0.9"/>
<line x1="494.04" y1="317.00" x2="494.04" y2="315.00" stroke="#111" stroke-width="0.9"/>
<line x1="496.85" y1="317.00" x2="496.85" y2="315.00" stroke="#111" stroke-width="0.9"/>
<line x1="499.22" y1="317.00" x2="499.22" y2="315.00" stroke="#111" stroke-width="0.9"/>
<line x1="501.27" y1="317.00" x2="501.27" y2="315.00" stroke="#111" stroke-width="0.9"/>
<line x1="503.08" y1="317.00" x2="503.08" y2="315.00" stroke="#111" stroke-width="0.9"/>
<line x1="515.36" y1="317.00" x2="515.36" y2="315.00" stroke="#111" stroke-width="0.9"/>
<line x1="521.59" y1="317.00" x2="521.59" y2="315.00" stroke="#111" stroke-width="0.9"/>
<line x1="526.01" y1="317.00" x2="526.01" y2="315.00" stroke="#111" stroke-width="0.9"/>
<line x1="529.44" y1="317.00" x2="529.44" y2="315.00" stroke="#111" stroke-width="0.9"/>
<line x1="532.25" y1="317.00" x2="532.25" y2="315.00" stroke="#111" stroke-width="0.9"/>
<line x1="534.62" y1="317.00" x2="534.62" y2="315.00" stroke="#111" stroke-width="0.9"/>
<line x1="536.67" y1="317.00" x2="536.67" y2="315.00" stroke="#111" stroke-width="0.9"/>
<line x1="538.48" y1="317.00" x2="538.48" y2="315.00" stroke="#111" stroke-width="0.9"/>
<line x1="327.70" y1="18.80" x2="327.70" y2="22.80" stroke="#111" stroke-width="1.15"/>
<line x1="363.10" y1="18.80" x2="363.10" y2="22.80" stroke="#111" stroke-width="1.15"/>
<line x1="398.50" y1="18.80" x2="398.50" y2="22.80" stroke="#111" stroke-width="1.15"/>
<line x1="433.90" y1="18.80" x2="433.90" y2="22.80" stroke="#111" stroke-width="1.15"/>
<line x1="469.30" y1="18.80" x2="469.30" y2="22.80" stroke="#111" stroke-width="1.15"/>
<line x1="504.70" y1="18.80" x2="504.70" y2="22.80" stroke="#111" stroke-width="1.15"/>
<line x1="540.10" y1="18.80" x2="540.10" y2="22.80" stroke="#111" stroke-width="1.15"/>
<line x1="338.36" y1="18.80" x2="338.36" y2="20.80" stroke="#111" stroke-width="0.9"/>
<line x1="344.59" y1="18.80" x2="344.59" y2="20.80" stroke="#111" stroke-width="0.9"/>
<line x1="349.01" y1="18.80" x2="349.01" y2="20.80" stroke="#111" stroke-width="0.9"/>
<line x1="352.44" y1="18.80" x2="352.44" y2="20.80" stroke="#111" stroke-width="0.9"/>
<line x1="355.25" y1="18.80" x2="355.25" y2="20.80" stroke="#111" stroke-width="0.9"/>
<line x1="357.62" y1="18.80" x2="357.62" y2="20.80" stroke="#111" stroke-width="0.9"/>
<line x1="359.67" y1="18.80" x2="359.67" y2="20.80" stroke="#111" stroke-width="0.9"/>
<line x1="361.48" y1="18.80" x2="361.48" y2="20.80" stroke="#111" stroke-width="0.9"/>
<line x1="373.76" y1="18.80" x2="373.76" y2="20.80" stroke="#111" stroke-width="0.9"/>
<line x1="379.99" y1="18.80" x2="379.99" y2="20.80" stroke="#111" stroke-width="0.9"/>
<line x1="384.41" y1="18.80" x2="384.41" y2="20.80" stroke="#111" stroke-width="0.9"/>
<line x1="387.84" y1="18.80" x2="387.84" y2="20.80" stroke="#111" stroke-width="0.9"/>
<line x1="390.65" y1="18.80" x2="390.65" y2="20.80" stroke="#111" stroke-width="0.9"/>
<line x1="393.02" y1="18.80" x2="393.02" y2="20.80" stroke="#111" stroke-width="0.9"/>
<line x1="395.07" y1="18.80" x2="395.07" y2="20.80" stroke="#111" stroke-width="0.9"/>
<line x1="396.88" y1="18.80" x2="396.88" y2="20.80" stroke="#111" stroke-width="0.9"/>
<line x1="409.16" y1="18.80" x2="409.16" y2="20.80" stroke="#111" stroke-width="0.9"/>
<line x1="415.39" y1="18.80" x2="415.39" y2="20.80" stroke="#111" stroke-width="0.9"/>
<line x1="419.81" y1="18.80" x2="419.81" y2="20.80" stroke="#111" stroke-width="0.9"/>
<line x1="423.24" y1="18.80" x2="423.24" y2="20.80" stroke="#111" stroke-width="0.9"/>
<line x1="426.05" y1="18.80" x2="426.05" y2="20.80" stroke="#111" stroke-width="0.9"/>
<line x1="428.42" y1="18.80" x2="428.42" y2="20.80" stroke="#111" stroke-width="0.9"/>
<line x1="430.47" y1="18.80" x2="430.47" y2="20.80" stroke="#111" stroke-width="0.9"/>
<line x1="432.28" y1="18.80" x2="432.28" y2="20.80" stroke="#111" stroke-width="0.9"/>
<line x1="444.56" y1="18.80" x2="444.56" y2="20.80" stroke="#111" stroke-width="0.9"/>
<line x1="450.79" y1="18.80" x2="450.79" y2="20.80" stroke="#111" stroke-width="0.9"/>
<line x1="455.21" y1="18.80" x2="455.21" y2="20.80" stroke="#111" stroke-width="0.9"/>
<line x1="458.64" y1="18.80" x2="458.64" y2="20.80" stroke="#111" stroke-width="0.9"/>
<line x1="461.45" y1="18.80" x2="461.45" y2="20.80" stroke="#111" stroke-width="0.9"/>
<line x1="463.82" y1="18.80" x2="463.82" y2="20.80" stroke="#111" stroke-width="0.9"/>
<line x1="465.87" y1="18.80" x2="465.87" y2="20.80" stroke="#111" stroke-width="0.9"/>
<line x1="467.68" y1="18.80" x2="467.68" y2="20.80" stroke="#111" stroke-width="0.9"/>
<line x1="479.96" y1="18.80" x2="479.96" y2="20.80" stroke="#111" stroke-width="0.9"/>
<line x1="486.19" y1="18.80" x2="486.19" y2="20.80" stroke="#111" stroke-width="0.9"/>
<line x1="490.61" y1="18.80" x2="490.61" y2="20.80" stroke="#111" stroke-width="0.9"/>
<line x1="494.04" y1="18.80" x2="494.04" y2="20.80" stroke="#111" stroke-width="0.9"/>
<line x1="496.85" y1="18.80" x2="496.85" y2="20.80" stroke="#111" stroke-width="0.9"/>
<line x1="499.22" y1="18.80" x2="499.22" y2="20.80" stroke="#111" stroke-width="0.9"/>
<line x1="501.27" y1="18.80" x2="501.27" y2="20.80" stroke="#111" stroke-width="0.9"/>
<line x1="503.08" y1="18.80" x2="503.08" y2="20.80" stroke="#111" stroke-width="0.9"/>
<line x1="515.36" y1="18.80" x2="515.36" y2="20.80" stroke="#111" stroke-width="0.9"/>
<line x1="521.59" y1="18.80" x2="521.59" y2="20.80" stroke="#111" stroke-width="0.9"/>
<line x1="526.01" y1="18.80" x2="526.01" y2="20.80" stroke="#111" stroke-width="0.9"/>
<line x1="529.44" y1="18.80" x2="529.44" y2="20.80" stroke="#111" stroke-width="0.9"/>
<line x1="532.25" y1="18.80" x2="532.25" y2="20.80" stroke="#111" stroke-width="0.9"/>
<line x1="534.62" y1="18.80" x2="534.62" y2="20.80" stroke="#111" stroke-width="0.9"/>
<line x1="536.67" y1="18.80" x2="536.67" y2="20.80" stroke="#111" stroke-width="0.9"/>
<line x1="538.48" y1="18.80" x2="538.48" y2="20.80" stroke="#111" stroke-width="0.9"/>
<line x1="324.90" y1="19.90" x2="328.90" y2="19.90" stroke="#111" stroke-width="1.15"/>
<line x1="543.40" y1="19.90" x2="539.40" y2="19.90" stroke="#111" stroke-width="1.15"/>
<line x1="324.90" y1="36.10" x2="328.90" y2="36.10" stroke="#111" stroke-width="1.15"/>
<line x1="543.40" y1="36.10" x2="539.40" y2="36.10" stroke="#111" stroke-width="1.15"/>
<line x1="324.90" y1="52.30" x2="328.90" y2="52.30" stroke="#111" stroke-width="1.15"/>
<line x1="543.40" y1="52.30" x2="539.40" y2="52.30" stroke="#111" stroke-width="1.15"/>
<line x1="324.90" y1="68.50" x2="328.90" y2="68.50" stroke="#111" stroke-width="1.15"/>
<line x1="543.40" y1="68.50" x2="539.40" y2="68.50" stroke="#111" stroke-width="1.15"/>
<line x1="324.90" y1="84.70" x2="328.90" y2="84.70" stroke="#111" stroke-width="1.15"/>
<line x1="543.40" y1="84.70" x2="539.40" y2="84.70" stroke="#111" stroke-width="1.15"/>
<line x1="324.90" y1="28.00" x2="326.90" y2="28.00" stroke="#111" stroke-width="0.9"/>
<line x1="543.40" y1="28.00" x2="541.40" y2="28.00" stroke="#111" stroke-width="0.9"/>
<line x1="324.90" y1="44.20" x2="326.90" y2="44.20" stroke="#111" stroke-width="0.9"/>
<line x1="543.40" y1="44.20" x2="541.40" y2="44.20" stroke="#111" stroke-width="0.9"/>
<line x1="324.90" y1="60.40" x2="326.90" y2="60.40" stroke="#111" stroke-width="0.9"/>
<line x1="543.40" y1="60.40" x2="541.40" y2="60.40" stroke="#111" stroke-width="0.9"/>
<line x1="324.90" y1="76.60" x2="326.90" y2="76.60" stroke="#111" stroke-width="0.9"/>
<line x1="543.40" y1="76.60" x2="541.40" y2="76.60" stroke="#111" stroke-width="0.9"/>
<line x1="324.90" y1="104.00" x2="328.90" y2="104.00" stroke="#111" stroke-width="1.15"/>
<line x1="543.40" y1="104.00" x2="539.40" y2="104.00" stroke="#111" stroke-width="1.15"/>
<line x1="324.90" y1="116.75" x2="328.90" y2="116.75" stroke="#111" stroke-width="1.15"/>
<line x1="543.40" y1="116.75" x2="539.40" y2="116.75" stroke="#111" stroke-width="1.15"/>
<line x1="324.90" y1="129.50" x2="328.90" y2="129.50" stroke="#111" stroke-width="1.15"/>
<line x1="543.40" y1="129.50" x2="539.40" y2="129.50" stroke="#111" stroke-width="1.15"/>
<line x1="324.90" y1="142.25" x2="328.90" y2="142.25" stroke="#111" stroke-width="1.15"/>
<line x1="543.40" y1="142.25" x2="539.40" y2="142.25" stroke="#111" stroke-width="1.15"/>
<line x1="324.90" y1="155.00" x2="328.90" y2="155.00" stroke="#111" stroke-width="1.15"/>
<line x1="543.40" y1="155.00" x2="539.40" y2="155.00" stroke="#111" stroke-width="1.15"/>
<line x1="324.90" y1="97.62" x2="326.90" y2="97.62" stroke="#111" stroke-width="0.9"/>
<line x1="543.40" y1="97.62" x2="541.40" y2="97.62" stroke="#111" stroke-width="0.9"/>
<line x1="324.90" y1="110.38" x2="326.90" y2="110.38" stroke="#111" stroke-width="0.9"/>
<line x1="543.40" y1="110.38" x2="541.40" y2="110.38" stroke="#111" stroke-width="0.9"/>
<line x1="324.90" y1="123.12" x2="326.90" y2="123.12" stroke="#111" stroke-width="0.9"/>
<line x1="543.40" y1="123.12" x2="541.40" y2="123.12" stroke="#111" stroke-width="0.9"/>
<line x1="324.90" y1="135.88" x2="326.90" y2="135.88" stroke="#111" stroke-width="0.9"/>
<line x1="543.40" y1="135.88" x2="541.40" y2="135.88" stroke="#111" stroke-width="0.9"/>
<line x1="324.90" y1="148.62" x2="326.90" y2="148.62" stroke="#111" stroke-width="0.9"/>
<line x1="543.40" y1="148.62" x2="541.40" y2="148.62" stroke="#111" stroke-width="0.9"/>
<line x1="324.90" y1="161.38" x2="326.90" y2="161.38" stroke="#111" stroke-width="0.9"/>
<line x1="543.40" y1="161.38" x2="541.40" y2="161.38" stroke="#111" stroke-width="0.9"/>
<line x1="324.90" y1="177.30" x2="328.90" y2="177.30" stroke="#111" stroke-width="1.15"/>
<line x1="543.40" y1="177.30" x2="539.40" y2="177.30" stroke="#111" stroke-width="1.15"/>
<line x1="324.90" y1="191.28" x2="328.90" y2="191.28" stroke="#111" stroke-width="1.15"/>
<line x1="543.40" y1="191.28" x2="539.40" y2="191.28" stroke="#111" stroke-width="1.15"/>
<line x1="324.90" y1="205.25" x2="328.90" y2="205.25" stroke="#111" stroke-width="1.15"/>
<line x1="543.40" y1="205.25" x2="539.40" y2="205.25" stroke="#111" stroke-width="1.15"/>
<line x1="324.90" y1="219.23" x2="328.90" y2="219.23" stroke="#111" stroke-width="1.15"/>
<line x1="543.40" y1="219.23" x2="539.40" y2="219.23" stroke="#111" stroke-width="1.15"/>
<line x1="324.90" y1="233.20" x2="328.90" y2="233.20" stroke="#111" stroke-width="1.15"/>
<line x1="543.40" y1="233.20" x2="539.40" y2="233.20" stroke="#111" stroke-width="1.15"/>
<line x1="324.90" y1="170.31" x2="326.90" y2="170.31" stroke="#111" stroke-width="0.9"/>
<line x1="543.40" y1="170.31" x2="541.40" y2="170.31" stroke="#111" stroke-width="0.9"/>
<line x1="324.90" y1="184.29" x2="326.90" y2="184.29" stroke="#111" stroke-width="0.9"/>
<line x1="543.40" y1="184.29" x2="541.40" y2="184.29" stroke="#111" stroke-width="0.9"/>
<line x1="324.90" y1="198.26" x2="326.90" y2="198.26" stroke="#111" stroke-width="0.9"/>
<line x1="543.40" y1="198.26" x2="541.40" y2="198.26" stroke="#111" stroke-width="0.9"/>
<line x1="324.90" y1="212.24" x2="326.90" y2="212.24" stroke="#111" stroke-width="0.9"/>
<line x1="543.40" y1="212.24" x2="541.40" y2="212.24" stroke="#111" stroke-width="0.9"/>
<line x1="324.90" y1="226.21" x2="326.90" y2="226.21" stroke="#111" stroke-width="0.9"/>
<line x1="543.40" y1="226.21" x2="541.40" y2="226.21" stroke="#111" stroke-width="0.9"/>
<line x1="324.90" y1="240.19" x2="326.90" y2="240.19" stroke="#111" stroke-width="0.9"/>
<line x1="543.40" y1="240.19" x2="541.40" y2="240.19" stroke="#111" stroke-width="0.9"/>
<line x1="324.90" y1="257.50" x2="328.90" y2="257.50" stroke="#111" stroke-width="1.15"/>
<line x1="543.40" y1="257.50" x2="539.40" y2="257.50" stroke="#111" stroke-width="1.15"/>
<line x1="324.90" y1="276.20" x2="328.90" y2="276.20" stroke="#111" stroke-width="1.15"/>
<line x1="543.40" y1="276.20" x2="539.40" y2="276.20" stroke="#111" stroke-width="1.15"/>
<line x1="324.90" y1="294.90" x2="328.90" y2="294.90" stroke="#111" stroke-width="1.15"/>
<line x1="543.40" y1="294.90" x2="539.40" y2="294.90" stroke="#111" stroke-width="1.15"/>
<line x1="324.90" y1="313.60" x2="328.90" y2="313.60" stroke="#111" stroke-width="1.15"/>
<line x1="543.40" y1="313.60" x2="539.40" y2="313.60" stroke="#111" stroke-width="1.15"/>
<line x1="324.90" y1="248.15" x2="326.90" y2="248.15" stroke="#111" stroke-width="0.9"/>
<line x1="543.40" y1="248.15" x2="541.40" y2="248.15" stroke="#111" stroke-width="0.9"/>
<line x1="324.90" y1="266.85" x2="326.90" y2="266.85" stroke="#111" stroke-width="0.9"/>
<line x1="543.40" y1="266.85" x2="541.40" y2="266.85" stroke="#111" stroke-width="0.9"/>
<line x1="324.90" y1="285.55" x2="326.90" y2="285.55" stroke="#111" stroke-width="0.9"/>
<line x1="543.40" y1="285.55" x2="541.40" y2="285.55" stroke="#111" stroke-width="0.9"/>
<line x1="324.90" y1="304.25" x2="326.90" y2="304.25" stroke="#111" stroke-width="0.9"/>
<line x1="543.40" y1="304.25" x2="541.40" y2="304.25" stroke="#111" stroke-width="0.9"/>
<text x="320.00" y="22.70" font-size="7.8" text-anchor="end" font-weight="normal" font-family="'Liberation Sans', Arial, sans-serif" fill="#000" stroke="#000" stroke-width="0.06">20.70</text>
<text x="320.00" y="38.90" font-size="7.8" text-anchor="end" font-weight="normal" font-family="'Liberation Sans', Arial, sans-serif" fill="#000" stroke="#000" stroke-width="0.06">19.55</text>
<text x="320.00" y="55.10" font-size="7.8" text-anchor="end" font-weight="normal" font-family="'Liberation Sans', Arial, sans-serif" fill="#000" stroke="#000" stroke-width="0.06">18.40</text>
<text x="320.00" y="71.30" font-size="7.8" text-anchor="end" font-weight="normal" font-family="'Liberation Sans', Arial, sans-serif" fill="#000" stroke="#000" stroke-width="0.06">17.25</text>
<text x="320.00" y="87.50" font-size="7.8" text-anchor="end" font-weight="normal" font-family="'Liberation Sans', Arial, sans-serif" fill="#000" stroke="#000" stroke-width="0.06">16.10</text>
<text x="320.00" y="106.80" font-size="7.8" text-anchor="end" font-weight="normal" font-family="'Liberation Sans', Arial, sans-serif" fill="#000" stroke="#000" stroke-width="0.06">83.70</text>
<text x="320.00" y="119.55" font-size="7.8" text-anchor="end" font-weight="normal" font-family="'Liberation Sans', Arial, sans-serif" fill="#000" stroke="#000" stroke-width="0.06">82.15</text>
<text x="320.00" y="132.30" font-size="7.8" text-anchor="end" font-weight="normal" font-family="'Liberation Sans', Arial, sans-serif" fill="#000" stroke="#000" stroke-width="0.06">80.60</text>
<text x="320.00" y="145.05" font-size="7.8" text-anchor="end" font-weight="normal" font-family="'Liberation Sans', Arial, sans-serif" fill="#000" stroke="#000" stroke-width="0.06">79.05</text>
<text x="320.00" y="157.80" font-size="7.8" text-anchor="end" font-weight="normal" font-family="'Liberation Sans', Arial, sans-serif" fill="#000" stroke="#000" stroke-width="0.06">77.50</text>
<text x="320.00" y="180.10" font-size="7.8" text-anchor="end" font-weight="normal" font-family="'Liberation Sans', Arial, sans-serif" fill="#000" stroke="#000" stroke-width="0.06">28.50</text>
<text x="320.00" y="194.08" font-size="7.8" text-anchor="end" font-weight="normal" font-family="'Liberation Sans', Arial, sans-serif" fill="#000" stroke="#000" stroke-width="0.06">28.35</text>
<text x="320.00" y="208.05" font-size="7.8" text-anchor="end" font-weight="normal" font-family="'Liberation Sans', Arial, sans-serif" fill="#000" stroke="#000" stroke-width="0.06">28.20</text>
<text x="320.00" y="222.03" font-size="7.8" text-anchor="end" font-weight="normal" font-family="'Liberation Sans', Arial, sans-serif" fill="#000" stroke="#000" stroke-width="0.06">28.05</text>
<text x="320.00" y="236.00" font-size="7.8" text-anchor="end" font-weight="normal" font-family="'Liberation Sans', Arial, sans-serif" fill="#000" stroke="#000" stroke-width="0.06">27.90</text>
<text x="320.00" y="260.30" font-size="7.8" text-anchor="end" font-weight="normal" font-family="'Liberation Sans', Arial, sans-serif" fill="#000" stroke="#000" stroke-width="0.06">0.85</text>
<text x="320.00" y="279.00" font-size="7.8" text-anchor="end" font-weight="normal" font-family="'Liberation Sans', Arial, sans-serif" fill="#000" stroke="#000" stroke-width="0.06">0.80</text>
<text x="320.00" y="297.70" font-size="7.8" text-anchor="end" font-weight="normal" font-family="'Liberation Sans', Arial, sans-serif" fill="#000" stroke="#000" stroke-width="0.06">0.75</text>
<text x="320.00" y="316.40" font-size="7.8" text-anchor="end" font-weight="normal" font-family="'Liberation Sans', Arial, sans-serif" fill="#000" stroke="#000" stroke-width="0.06">0.70</text>
<text x="319.80" y="13.7" font-size="10" font-family="'Liberation Sans', Arial, sans-serif" fill="#000">10<tspan font-size="5.5" dy="-4.7" dx="0.1">13</tspan></text>
<text x="318.60" y="330.5" font-size="10" font-family="'Liberation Sans', Arial, sans-serif" fill="#000">10<tspan font-size="5.5" dy="-4.7" dx="0.1">13</tspan></text>
<text x="352.80" y="13.7" font-size="10" font-family="'Liberation Sans', Arial, sans-serif" fill="#000">10<tspan font-size="5.5" dy="-4.7" dx="0.1">14</tspan></text>
<text x="351.60" y="330.5" font-size="10" font-family="'Liberation Sans', Arial, sans-serif" fill="#000">10<tspan font-size="5.5" dy="-4.7" dx="0.1">14</tspan></text>
<text x="390.00" y="13.7" font-size="10" font-family="'Liberation Sans', Arial, sans-serif" fill="#000">10<tspan font-size="5.5" dy="-4.7" dx="0.1">15</tspan></text>
<text x="388.80" y="330.5" font-size="10" font-family="'Liberation Sans', Arial, sans-serif" fill="#000">10<tspan font-size="5.5" dy="-4.7" dx="0.1">15</tspan></text>
<text x="425.60" y="13.7" font-size="10" font-family="'Liberation Sans', Arial, sans-serif" fill="#000">10<tspan font-size="5.5" dy="-4.7" dx="0.1">16</tspan></text>
<text x="424.40" y="330.5" font-size="10" font-family="'Liberation Sans', Arial, sans-serif" fill="#000">10<tspan font-size="5.5" dy="-4.7" dx="0.1">16</tspan></text>
<text x="458.70" y="13.7" font-size="10" font-family="'Liberation Sans', Arial, sans-serif" fill="#000">10<tspan font-size="5.5" dy="-4.7" dx="0.1">17</tspan></text>
<text x="457.50" y="330.5" font-size="10" font-family="'Liberation Sans', Arial, sans-serif" fill="#000">10<tspan font-size="5.5" dy="-4.7" dx="0.1">17</tspan></text>
<text x="493.80" y="13.7" font-size="10" font-family="'Liberation Sans', Arial, sans-serif" fill="#000">10<tspan font-size="5.5" dy="-4.7" dx="0.1">18</tspan></text>
<text x="492.60" y="330.5" font-size="10" font-family="'Liberation Sans', Arial, sans-serif" fill="#000">10<tspan font-size="5.5" dy="-4.7" dx="0.1">18</tspan></text>
<text x="530.50" y="13.7" font-size="10" font-family="'Liberation Sans', Arial, sans-serif" fill="#000">10<tspan font-size="5.5" dy="-4.7" dx="0.1">19</tspan></text>
<text x="529.30" y="330.5" font-size="10" font-family="'Liberation Sans', Arial, sans-serif" fill="#000">10<tspan font-size="5.5" dy="-4.7" dx="0.1">19</tspan></text>
<text x="336.2" y="349.1" font-size="10" font-weight="bold" font-family="'Liberation Sans', Arial, sans-serif" fill="#000" textLength="181.2" lengthAdjust="spacingAndGlyphs">Donor Carrier Concentration N<tspan font-size="7">D</tspan> (cm<tspan font-size="5.5" dy="-4.8">−3</tspan><tspan dy="4.8">)</tspan></text>
<polyline points="327.70,83.50 363.10,57.30 398.50,51.90 433.90,42.50 469.30,40.20 504.70,37.90 540.10,31.90" fill="none" stroke="#ff0000" stroke-width="2.3" stroke-linejoin="round"/>
<circle cx="327.70" cy="83.50" r="1.8" fill="#ffd8d8" stroke="#ff0000" stroke-width="1.5"/>
<circle cx="363.10" cy="57.30" r="1.8" fill="#ffd8d8" stroke="#ff0000" stroke-width="1.5"/>
<circle cx="398.50" cy="51.90" r="1.8" fill="#ffd8d8" stroke="#ff0000" stroke-width="1.5"/>
<circle cx="433.90" cy="42.50" r="1.8" fill="#ffd8d8" stroke="#ff0000" stroke-width="1.5"/>
<circle cx="469.30" cy="40.20" r="1.8" fill="#ffd8d8" stroke="#ff0000" stroke-width="1.5"/>
<circle cx="504.70" cy="37.90" r="1.8" fill="#ffd8d8" stroke="#ff0000" stroke-width="1.5"/>
<circle cx="540.10" cy="31.90" r="1.8" fill="#ffd8d8" stroke="#ff0000" stroke-width="1.5"/>
<polyline points="327.70,148.50 363.10,132.00 398.50,127.20 433.90,128.70 469.30,129.90 504.70,132.60 540.10,118.70" fill="none" stroke="#7f00ff" stroke-width="2.3" stroke-linejoin="round"/>
<rect x="325.60" y="146.40" width="4.20" height="4.20" fill="#7f00ff"/>
<rect x="361.00" y="129.90" width="4.20" height="4.20" fill="#7f00ff"/>
<rect x="396.40" y="125.10" width="4.20" height="4.20" fill="#7f00ff"/>
<rect x="431.80" y="126.60" width="4.20" height="4.20" fill="#7f00ff"/>
<rect x="467.20" y="127.80" width="4.20" height="4.20" fill="#7f00ff"/>
<rect x="502.60" y="130.50" width="4.20" height="4.20" fill="#7f00ff"/>
<rect x="538.00" y="116.60" width="4.20" height="4.20" fill="#7f00ff"/>
<polyline points="327.70,221.30 363.10,189.60 398.50,187.80 433.90,185.80 469.30,184.80 504.70,184.70 540.10,182.40" fill="none" stroke="#000080" stroke-width="2.3" stroke-linejoin="round"/>
<polygon points="324.60,221.30 327.70,218.20 330.80,221.30 327.70,224.40" fill="#000080"/>
<polygon points="360.00,189.60 363.10,186.50 366.20,189.60 363.10,192.70" fill="#000080"/>
<polygon points="395.40,187.80 398.50,184.70 401.60,187.80 398.50,190.90" fill="#000080"/>
<polygon points="430.80,185.80 433.90,182.70 437.00,185.80 433.90,188.90" fill="#000080"/>
<polygon points="466.20,184.80 469.30,181.70 472.40,184.80 469.30,187.90" fill="#000080"/>
<polygon points="501.60,184.70 504.70,181.60 507.80,184.70 504.70,187.80" fill="#000080"/>
<polygon points="537.00,182.40 540.10,179.30 543.20,182.40 540.10,185.50" fill="#000080"/>
<polyline points="327.70,302.60 363.10,284.00 398.50,276.40 433.90,265.10 469.30,261.30 504.70,257.70 540.10,257.70" fill="none" stroke="#008000" stroke-width="2.3" stroke-linejoin="round"/>
<polygon points="325.00,304.60 327.70,299.40 330.40,304.60" fill="#008000"/>
<polygon points="360.40,286.00 363.10,280.80 365.80,286.00" fill="#008000"/>
<polygon points="395.80,278.40 398.50,273.20 401.20,278.40" fill="#008000"/>
<polygon points="431.20,267.10 433.90,261.90 436.60,267.10" fill="#008000"/>
<polygon points="466.60,263.30 469.30,258.10 472.00,263.30" fill="#008000"/>
<polygon points="502.00,259.70 504.70,254.50 507.40,259.70" fill="#008000"/>
<polygon points="537.40,259.70 540.10,254.50 542.80,259.70" fill="#008000"/>
<rect x="460.40" y="60.90" width="67.40" height="11.80" fill="#fff" stroke="#444" stroke-width="0.8"/>
<line x1="463.60" y1="66.90" x2="485.80" y2="66.90" stroke="#ff0000" stroke-width="2.3"/>
<circle cx="474.70" cy="66.90" r="1.8" fill="#ffd8d8" stroke="#ff0000" stroke-width="1.5"/>
<text x="488.50" y="70.10" font-size="9.25" text-anchor="start" font-weight="normal" font-family="'Liberation Sans', Arial, sans-serif" fill="#000" stroke="#000" stroke-width="0.06" textLength="36.40" lengthAdjust="spacingAndGlyphs">PCE (%)</text>
<rect x="468.50" y="145.00" width="59.30" height="11.50" fill="#fff" stroke="#444" stroke-width="0.8"/>
<line x1="471.50" y1="151.00" x2="494.20" y2="151.00" stroke="#7f00ff" stroke-width="2.3"/>
<rect x="480.75" y="148.90" width="4.20" height="4.20" fill="#7f00ff"/>
<text x="497.30" y="154.20" font-size="9.25" text-anchor="start" font-weight="normal" font-family="'Liberation Sans', Arial, sans-serif" fill="#000" stroke="#000" stroke-width="0.06" textLength="28.30" lengthAdjust="spacingAndGlyphs">FF (%)</text>
<rect x="440.50" y="204.30" width="85.50" height="13.30" fill="#fff" stroke="#444" stroke-width="0.8"/>
<line x1="443.50" y1="212.10" x2="466.00" y2="212.10" stroke="#000080" stroke-width="2.3"/>
<polygon points="451.65,212.10 454.75,209.00 457.85,212.10 454.75,215.20" fill="#000080"/>
<text x="469.30" y="215.30" font-size="9.25" font-family="'Liberation Sans', Arial, sans-serif" fill="#000" textLength="54.50" lengthAdjust="spacingAndGlyphs">Jsc (mA/cm<tspan font-size="5.2" dy="-3.6">2</tspan><tspan dy="3.6">)</tspan></text>
<rect x="463.80" y="284.70" width="61.60" height="11.60" fill="#fff" stroke="#444" stroke-width="0.8"/>
<line x1="466.70" y1="290.40" x2="489.30" y2="290.40" stroke="#008000" stroke-width="2.3"/>
<polygon points="475.30,292.40 478.00,287.20 480.70,292.40" fill="#008000"/>
<text x="492.20" y="293.60" font-size="9.25" text-anchor="start" font-weight="normal" font-family="'Liberation Sans', Arial, sans-serif" fill="#000" stroke="#000" stroke-width="0.06" textLength="30.50" lengthAdjust="spacingAndGlyphs">Voc (V)</text>
<text x="426.7" y="367.4" font-size="11" text-anchor="middle" font-family="'Liberation Serif', 'Times New Roman', serif" fill="#111">(<tspan font-weight="bold">b</tspan>)</text>
</svg>
</body></html>
